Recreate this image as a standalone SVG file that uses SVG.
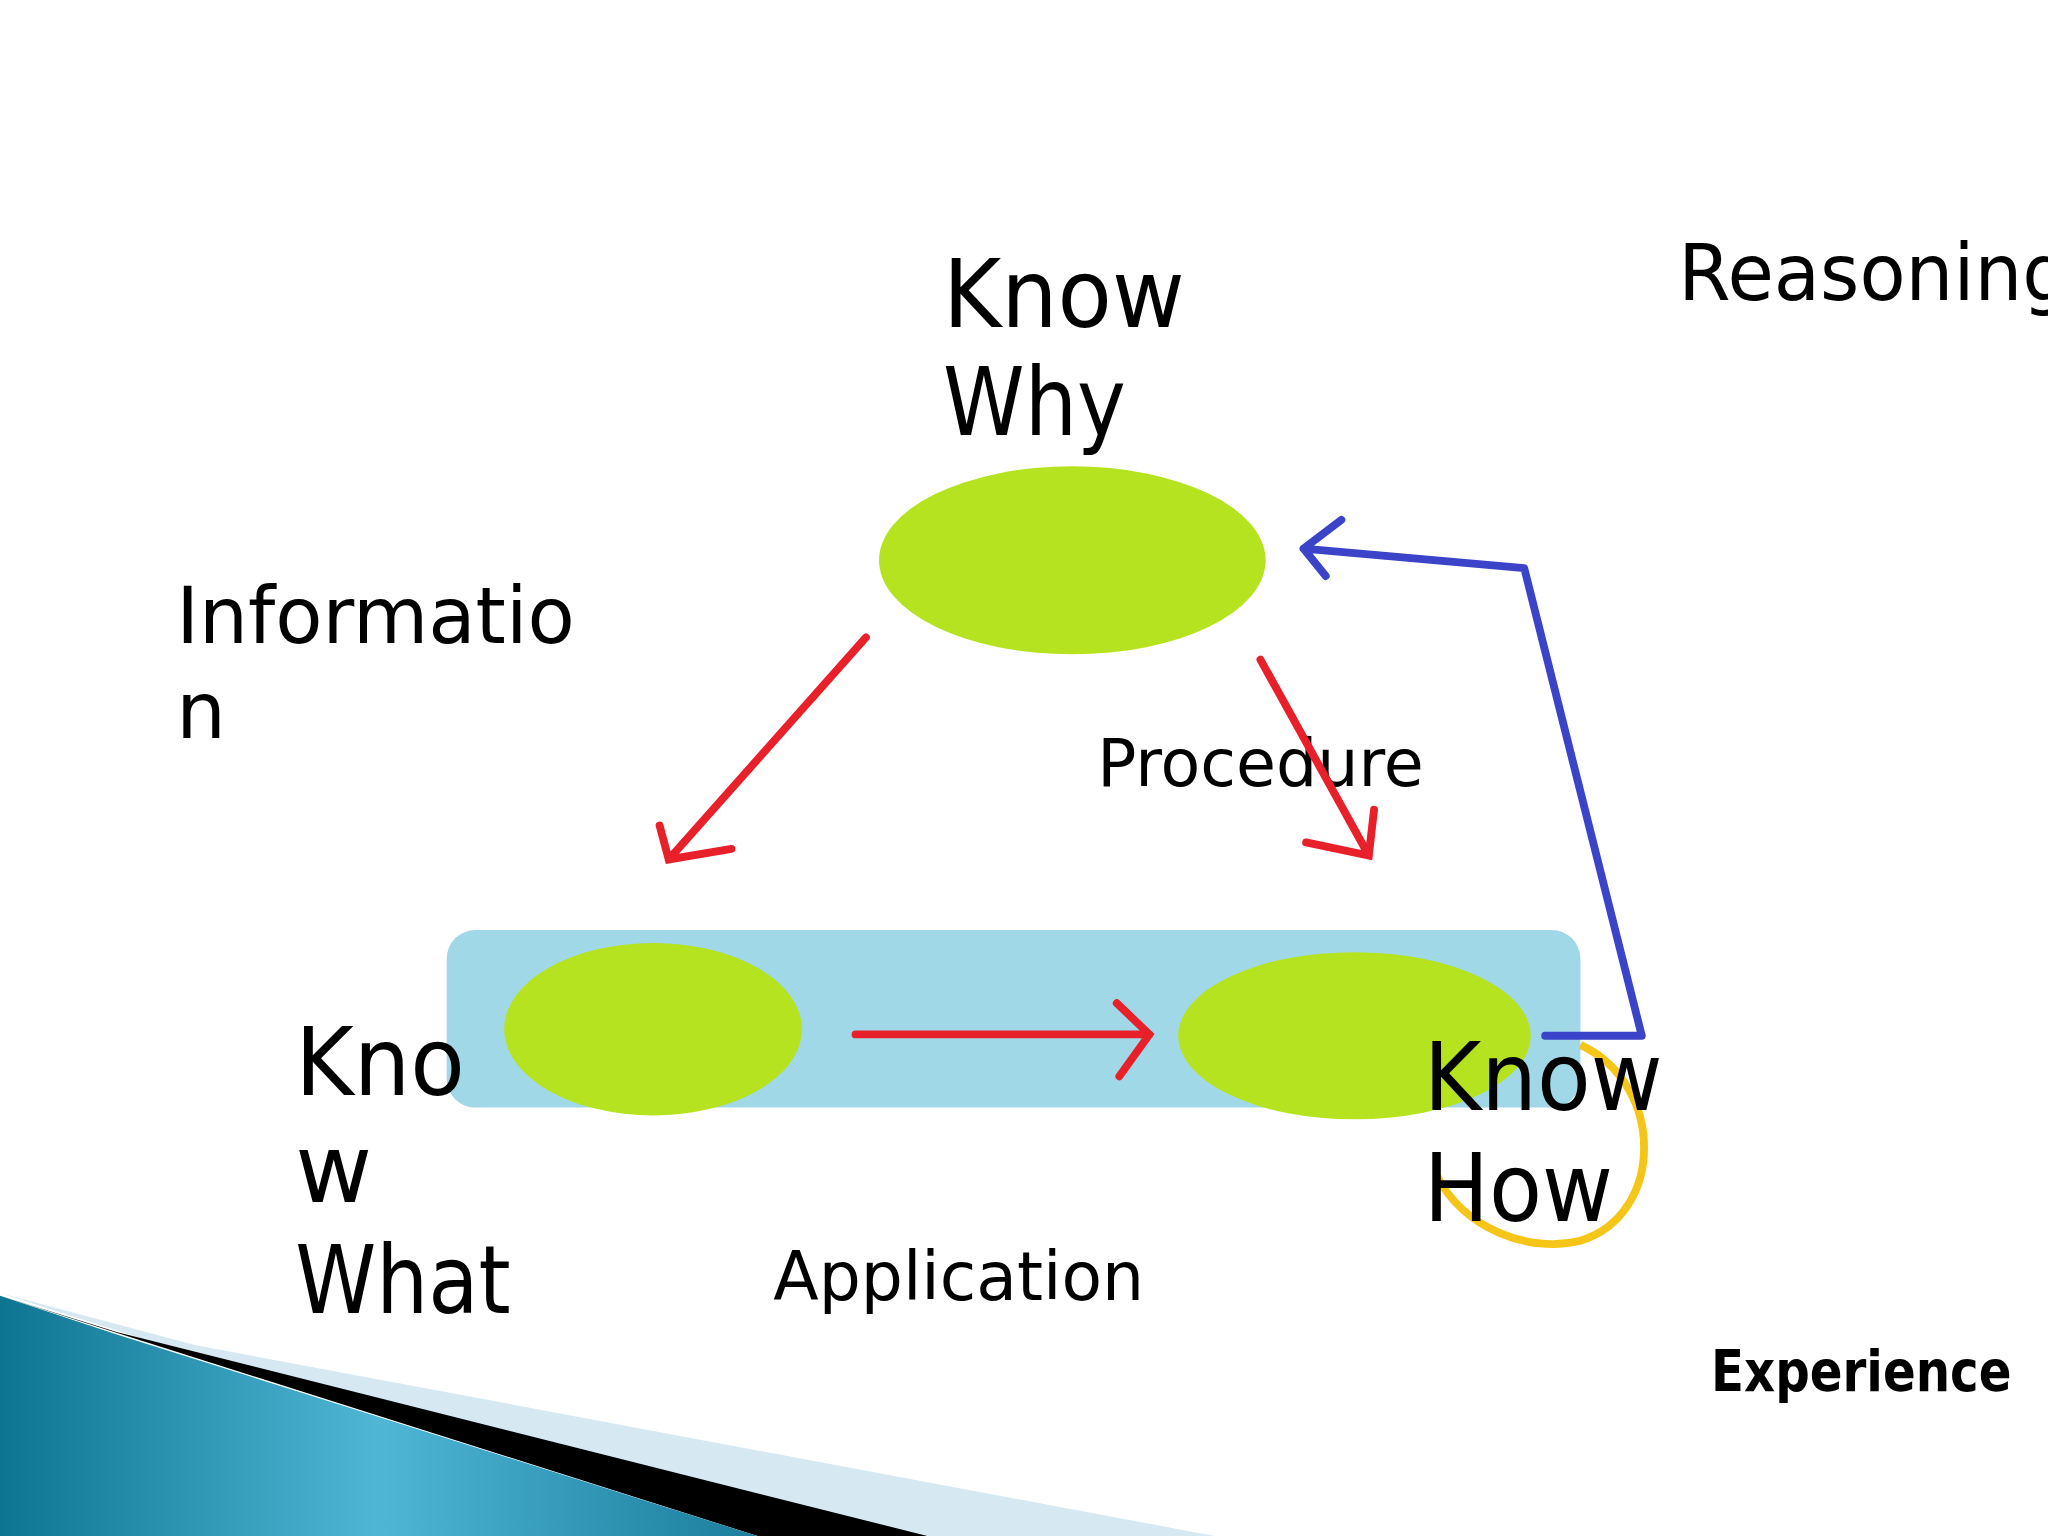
<svg xmlns="http://www.w3.org/2000/svg" width="2048" height="1536" viewBox="0 0 2048 1536">
<defs>
<style>
.t{font-family:"DejaVu Sans",sans-serif;fill:#000}
.g{fill:#b5e31f}
.r{stroke:#e8202a;stroke-width:6;fill:none;stroke-linecap:round}
.b{stroke:#3b44c8;stroke-width:6;fill:none;stroke-linecap:round;stroke-linejoin:round}
</style>
<linearGradient id="tg" x1="0" y1="0" x2="1" y2="0"><stop offset="0" stop-color="#0d7590"/><stop offset="0.5" stop-color="#4fb6d6"/><stop offset="1" stop-color="#1a7e9c"/></linearGradient>
</defs>
<rect width="2048" height="1536" fill="#fff"/>
<g transform="scale(1.30612)">
<g id="decoration">
<polygon points="0,990 150,1030 930,1176 580,1176" fill="#d6e8f1"/>
<polygon points="0,992 90,1020 710,1176 580,1176" fill="#000"/>
<polygon points="0,992 90,1022 580,1176 0,1176" fill="url(#tg)"/>
</g>
<g id="reasoning"><text class="t" x="1285" y="230" font-size="60" textLength="300" lengthAdjust="spacingAndGlyphs">Reasoning</text></g>
<g id="information"><text class="t" x="135" y="492" font-size="60" textLength="305" lengthAdjust="spacingAndGlyphs">Informatio</text><text class="t" x="135" y="565" font-size="60">n</text></g>
<g id="procedure"><text class="t" x="840" y="602" font-size="50" textLength="250" lengthAdjust="spacingAndGlyphs">Procedure</text></g>
<g id="application"><text class="t" x="592" y="995" font-size="52" textLength="284" lengthAdjust="spacingAndGlyphs">Application</text></g>
<g id="experience"><text class="t" x="1310" y="1065" font-size="44" font-weight="bold" textLength="230" lengthAdjust="spacingAndGlyphs">Experience</text></g>
<g id="band"><rect x="342" y="712" width="868" height="136" rx="22" fill="#a0d8e8"/></g>
<g id="knowwhy">
<ellipse class="g" cx="821" cy="429" rx="148" ry="72"/>
<text class="t" x="722" y="250" font-size="72" textLength="185" lengthAdjust="spacingAndGlyphs">Know</text><text class="t" x="722" y="333" font-size="72" textLength="140" lengthAdjust="spacingAndGlyphs">Why</text>
</g>
<g id="knowwhat">
<ellipse class="g" cx="500" cy="788" rx="114" ry="66"/>
<text class="t" x="226" y="838" font-size="72" textLength="130" lengthAdjust="spacingAndGlyphs">Kno</text><text class="t" x="226" y="920" font-size="72">w</text><text class="t" x="226" y="1005" font-size="72" textLength="165" lengthAdjust="spacingAndGlyphs">What</text>
</g>
<g id="knowhow">
<ellipse class="g" cx="1037" cy="793" rx="135" ry="64"/>
<path d="M1210,800 C1275,830 1275,930 1210,950 C1170,960 1120,940 1100,900" fill="none" stroke="#f5c518" stroke-width="6"/>
<text class="t" x="1090" y="850" font-size="72" textLength="183" lengthAdjust="spacingAndGlyphs">Know</text><text class="t" x="1090" y="935" font-size="72" textLength="145" lengthAdjust="spacingAndGlyphs">How</text>
</g>
<g id="connectors">
<path class="r" d="M663,488 L512,658 M505,632 L512,658 L560,650"/>
<path class="r" d="M965,505 L1048,655 M1000,645 L1048,655 L1052,620"/>
<path class="r" d="M655,792 L880,792 M855,768 L880,792 L857,824"/>
<path class="b" d="M1183,793 L1257,793 L1167,435 L998,420 M1027,398 L998,420 L1015,441"/>
</g>
</g>
</svg>
